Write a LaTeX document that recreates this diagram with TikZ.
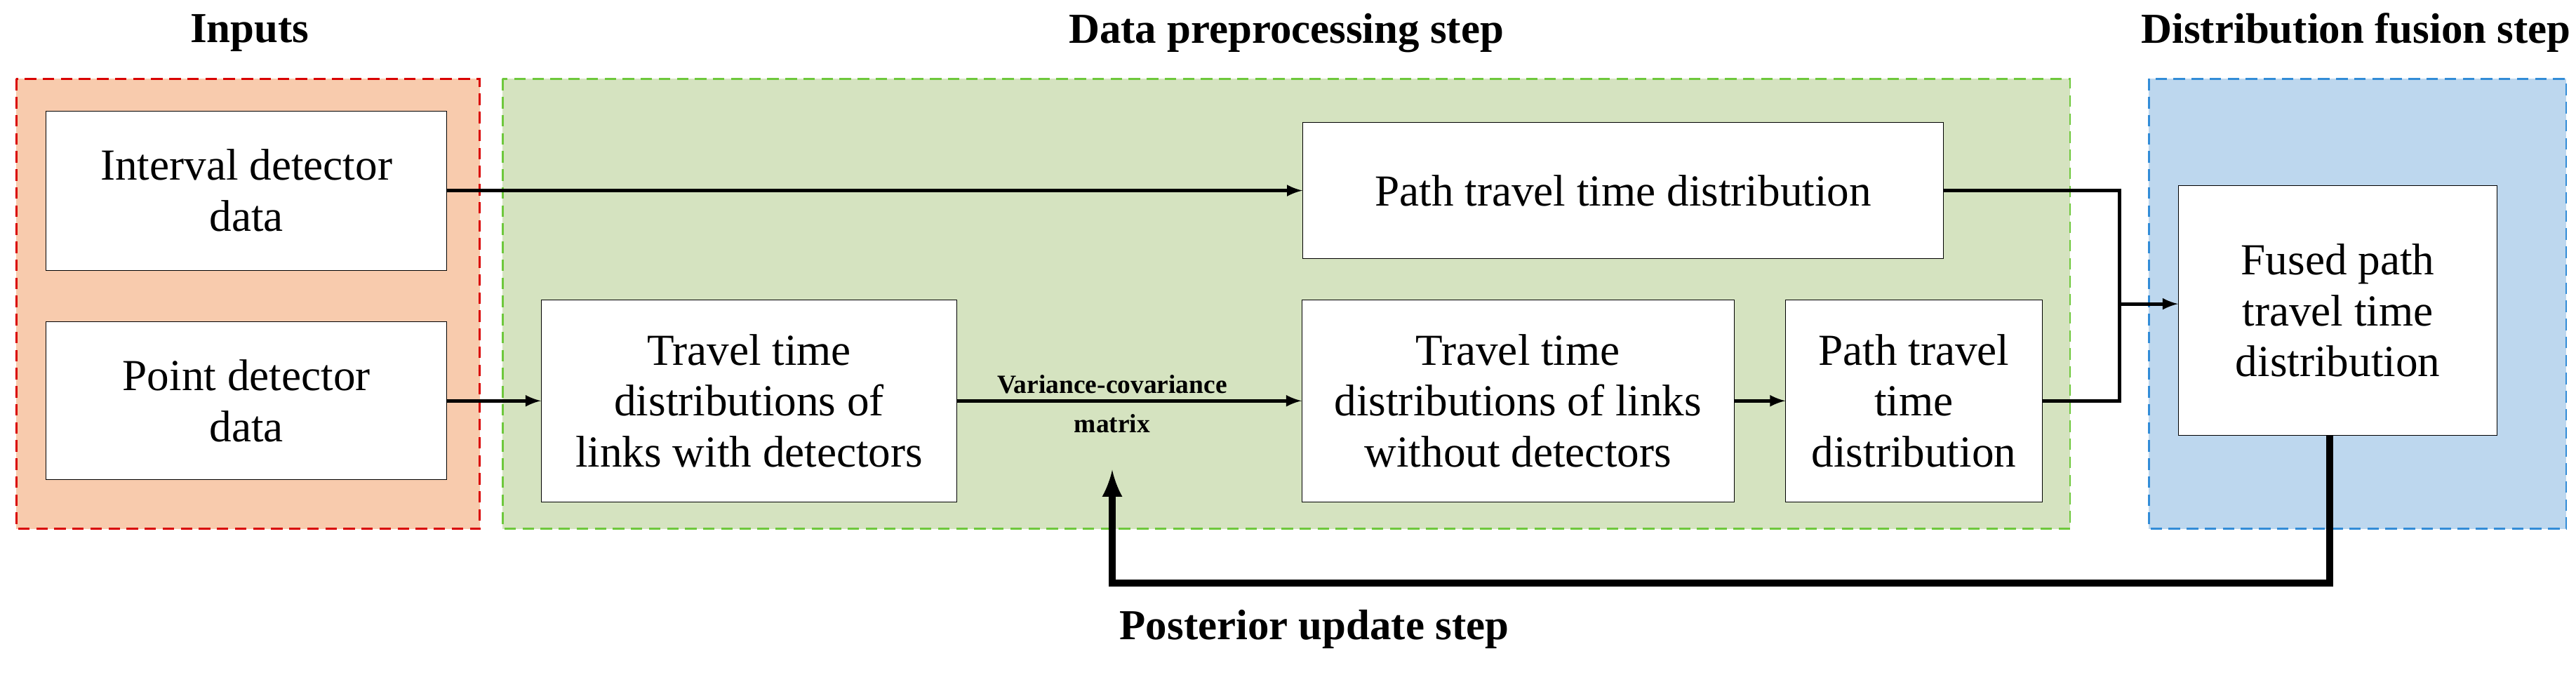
\documentclass[tikz,border=0pt]{standalone}
\usepackage{fontspec}
\setmainfont{Liberation Serif}
\usetikzlibrary{arrows}
\tikzset{
    punkt/.style={
           rectangle,
           draw=black, thin,
           fill=white,
           align=center,
           inner sep=2pt,
           font=\fontsize{27}{31}\selectfont},
    zone/.style={
           rectangle,
           dash pattern=on 7pt off 4pt, line width=1.2pt},
    titel/.style={
           font=\fontsize{26}{30}\selectfont\bfseries},
    pil/.style={->,>=latex,black,line width=2.2pt}
    }
\begin{document}
\begin{tikzpicture}[x=1pt,y=-1pt]
      \useasboundingbox (0,0) rectangle (1568,415);
      % zones
      \draw[zone,draw=red!85!black,fill={rgb,255:red,248;green,203;blue,173}] (10,48) rectangle (292,322);
      \draw[zone,draw={rgb,255:red,110;green,200;blue,60},fill={rgb,255:red,213;green,227;blue,192}] (306,48) rectangle (1260,322);
      \draw[zone,draw={rgb,255:red,50;green,140;blue,215},fill={rgb,255:red,189;green,215;blue,238}] (1308,48) rectangle (1562,322);
      \node[titel] at (152,20) {Inputs};
      \node[titel] at (783,20) {Data preprocessing step};
      \node[titel,anchor=east,inner xsep=0pt] at (1565,20) {Distribution fusion step};
      % boxes
      \node[punkt,minimum width=244,minimum height=97] (interval) at (150,116) {Interval detector\\data};
      \node[punkt,minimum width=244,minimum height=96] (point) at (150,244) {Point detector\\data};
      \node[punkt,minimum width=390,minimum height=83] (ptop) at (988,116) {Path travel time distribution};
      \node[punkt,minimum width=253,minimum height=123] (with) at (456,244) {Travel time\\distributions of\\links with detectors};
      \node[punkt,minimum width=263,minimum height=123] (without) at (924,244) {Travel time\\distributions of links\\without detectors};
      \node[punkt,minimum width=156,minimum height=123] (psmall) at (1165,244) {Path travel\\time\\distribution};
      \node[punkt,minimum width=194,minimum height=152] (fused) at (1423,189) {Fused path\\travel time\\distribution};
      \node[font=\fontsize{16}{19}\selectfont\bfseries,align=center] (vcm) at (677,246) {Variance-covariance\\[5pt]matrix};
      \coordinate (join) at (1290,185);
      \coordinate (fb) at (677,286);
      % connectors
      \draw[pil] (interval.east |- ptop) -- (ptop.west);
      \draw[pil] (point.east) -- (with.west);
      \draw[pil] (with.east) -- (without.west);
      \draw[pil] (without.east) -- (psmall.west);
      \draw[line width=2.2pt] (ptop.east) -| (join);
      \draw[line width=2.2pt] (psmall.east) -| (join);
      \draw[pil] (join) -- (join -| fused.west);
      \draw[->,>=latex,line width=4.5pt] (fused.south -| 1418,0) -- (1418,355) -| (fb);
      \node[titel] at (800,383) {Posterior update step};
\end{tikzpicture}
\end{document}
